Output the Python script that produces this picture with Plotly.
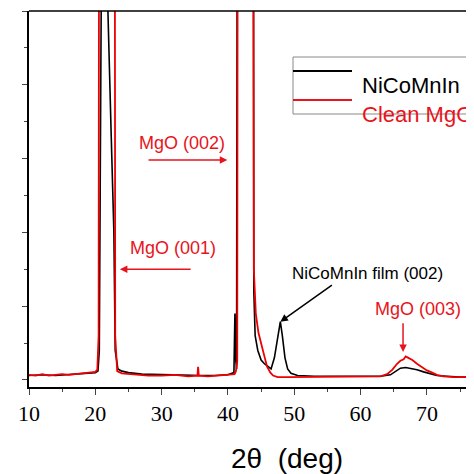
import plotly.graph_objects as go

# Clean MgO substrate (red)
red_x = [10, 11, 12, 13, 14, 15, 16, 17, 18, 19, 20, 20.3, 20.5, 20.7, 22.8, 23.0, 23.3, 24, 25, 26, 28, 30, 32, 34, 35.4, 35.5, 35.6, 37, 39, 40.5, 41.0, 41.2, 41.4, 41.6, 43.6, 43.9, 44.2, 44.6, 45.0, 45.5, 45.9, 46.4, 46.8, 47.5, 49, 52, 55, 58, 61, 63, 64, 64.8, 65.5, 66.0, 66.5, 66.8, 67.2, 67.8, 68.5, 69.2, 70, 70.8, 71.5, 72.5, 74, 76, 77.5]
red_y = [7, 6, 8, 6, 7, 8, 7, 8, 9, 10, 11, 14, 60, 2000, 2000, 60, 12, 9, 8, 7, 6, 6, 7, 5, 6, 18, 6, 5, 6, 7, 8, 12, 25, 2000, 2000, 150, 90, 64, 48, 32, 18, 10, 6, 4, 4, 4, 4, 5, 4, 5, 8, 14, 22, 26, 28, 32, 30, 27, 22, 18, 13, 10, 7, 5, 4, 4, 4]

# NiCoMnIn film on MgO (black)
blk_x = [10, 12, 14, 16, 18, 20, 20.4, 20.6, 21.8, 21.9, 22.4, 22.8, 23.0, 23.4, 24, 25, 27, 30, 33, 36, 38, 40, 40.9, 41.05, 41.15, 41.3, 41.6, 43.7, 43.9, 44.1, 44.5, 45.0, 45.5, 46.0, 46.5, 47.0, 47.5, 47.9, 48.2, 48.6, 49.0, 49.5, 50.5, 53, 56, 60, 63, 64.5, 65.3, 66, 66.8, 67.5, 68.5, 69.5, 70.5, 71.5, 73, 75, 77.5]
blk_y = [6, 7, 6, 7, 8, 10, 12, 40, 2000, 500, 330, 200, 40, 15, 12, 10, 8, 7, 6, 6, 6, 7, 10, 90, 30, 15, 2000, 2000, 120, 60, 40, 27, 22, 18, 15, 30, 60, 79, 60, 30, 15, 9, 6, 5, 5, 5, 5, 7, 12, 16, 17, 16, 14, 11, 8, 6, 5, 4, 4]

fig = go.Figure()
fig.add_trace(go.Scatter(x=blk_x, y=blk_y, mode="lines", line=dict(color="black", width=1.6), showlegend=False))
fig.add_trace(go.Scatter(x=red_x, y=red_y, mode="lines", line=dict(color="#ee0000", width=1.8), showlegend=False))

RED = "#e8141c"
ann = [
    dict(x=33.1, y=321, text="MgO (002)", font=dict(color=RED, size=18, family="Arial"), showarrow=False),
    dict(x=39.9, y=298, ax=27.8, ay=298, axref="x", ayref="y", text="", showarrow=True,
         arrowcolor=RED, arrowwidth=1.5, arrowhead=2, arrowsize=1),
    dict(x=31.7, y=179, text="MgO (001)", font=dict(color=RED, size=18, family="Arial"), showarrow=False),
    dict(x=23.7, y=150, ax=34.6, ay=150, axref="x", ayref="y", text="", showarrow=True,
         arrowcolor=RED, arrowwidth=1.5, arrowhead=2, arrowsize=1),
    dict(x=61, y=144, text="NiCoMnIn film (002)", font=dict(color="black", size=17, family="Arial"), showarrow=False),
    dict(x=47.9, y=79, ax=55.9, ay=130, axref="x", ayref="y", text="", showarrow=True,
         arrowcolor="black", arrowwidth=1.5, arrowhead=2, arrowsize=1),
    dict(x=61.9, y=96, xanchor="left", text="MgO (003)", font=dict(color=RED, size=18, family="Arial"), showarrow=False),
    dict(x=66.4, y=38, ax=66.4, ay=79, axref="x", ayref="y", text="", showarrow=True,
         arrowcolor=RED, arrowwidth=1.5, arrowhead=2, arrowsize=1),
    dict(x=(287 - 29) / 445, y=(387 - 458) / 376, xref="paper", yref="paper", xanchor="center", yanchor="middle",
         text="2θ  (deg)", font=dict(size=28, family="Arial", color="black"), showarrow=False),
]
# legend drawn in paper coords
L = (293 - 29) / 445
ann += [
    dict(x=(360 - 29) / 445, y=(387 - 71) / 376, xref="paper", yref="paper", xanchor="left",
         text="NiCoMnIn", font=dict(size=22, family="Arial", color="black"), showarrow=False),
    dict(x=(360 - 29) / 445, y=(387 - 100) / 376, xref="paper", yref="paper", xanchor="left",
         text="Clean MgO", font=dict(size=22, family="Arial", color=RED), showarrow=False),
]
shapes = [
    dict(type="rect", xref="paper", yref="paper", x0=L, x1=1.2, y0=(387 - 114) / 376, y1=(387 - 57) / 376,
         line=dict(color="#888", width=1)),
    dict(type="line", xref="paper", yref="paper", x0=L, x1=(352 - 29) / 445, y0=(387 - 71) / 376, y1=(387 - 71) / 376,
         line=dict(color="black", width=2)),
    dict(type="line", xref="paper", yref="paper", x0=L, x1=(352 - 29) / 445, y0=(387 - 100) / 376, y1=(387 - 100) / 376,
         line=dict(color=RED, width=2)),
]

fig.update_layout(
    width=474, height=474, margin=dict(l=21, r=8, t=3, b=95, autoexpand=False),
    plot_bgcolor="white", paper_bgcolor="white", annotations=ann, shapes=shapes,
    font=dict(family="Liberation Serif", color="black"),
)
fig.update_xaxes(range=[10, 77.1], tickvals=[10, 20, 30, 40, 50, 60, 70], ticks="outside", ticklen=6,
                 minor=dict(dtick=5, ticks="outside", ticklen=3, tick0=10), showgrid=False,
                 showline=True, linecolor="black", linewidth=1.5, tickfont=dict(size=22), zeroline=False)
fig.update_yaxes(range=[-9.5, 500], tickvals=[0, 100, 200, 300, 400, 500], ticks="outside", ticklen=5,
                 minor=dict(dtick=50, ticks="outside", ticklen=3, tick0=0), showgrid=False,
                 ticktext=["0", "100", "200", "300", "400", "500"], ticklabelstandoff=12,
                 showline=True, linecolor="black", linewidth=1.5, tickfont=dict(size=22), zeroline=False)
fig.add_shape(type="line", xref="paper", yref="paper", x0=0, x1=1.1, y0=1, y1=1, line=dict(color="black", width=1.5))
fig.write_html("out.html")
